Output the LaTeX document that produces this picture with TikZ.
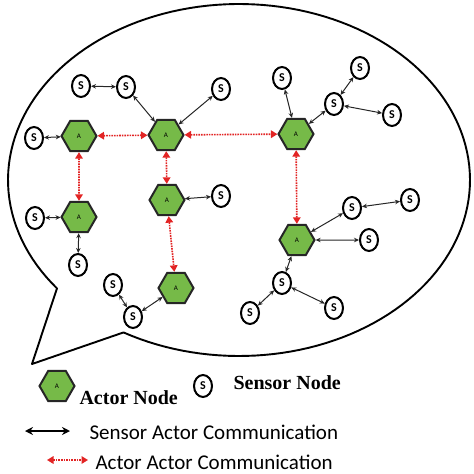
\documentclass[tikz,border=0pt]{standalone}
\usepackage{fontspec}
\setmainfont{Liberation Serif}
\newfontfamily\labelfont{Carlito}
\usetikzlibrary{arrows.meta}
\usetikzlibrary{shapes.geometric}
\definecolor{actorgreen}{RGB}{118,186,72}
\definecolor{linkred}{RGB}{226,36,36}
\tikzset{actor/.style={regular polygon, regular polygon sides=6, draw=black!85, line width=2pt,
    fill=actorgreen, minimum size=35pt, inner sep=0pt, font=\labelfont\fontsize{7}{7}\selectfont},
  sensor/.style={ellipse, draw, line width=2pt, fill=white, minimum width=18pt, minimum height=22pt,
    inner sep=0pt, font=\labelfont\bfseries\fontsize{12}{12}\selectfont},
  salink/.style={{Stealth[length=5pt,width=4.5pt]}-{Stealth[length=5pt,width=4.5pt]}, line width=1pt, black!85},
  aalink/.style={{Triangle[length=6.5pt,width=7.5pt]}-{Triangle[length=6.5pt,width=7.5pt]}, linkred,
    line width=1.6pt, densely dotted}}

\begin{document}
\begin{tikzpicture}[x=1pt, y=-1pt]
      \useasboundingbox (0, 0) rectangle (474, 474);

      \draw [line width=1.9pt, line join=round] plot [domain=142:480, samples=150]
        ({239+231*cos(\x)}, {180+176*sin(\x)}) -- (32, 364) -- cycle;

      \node [actor] (a1) at (79, 136) {A};
      \node [actor] (a2) at (166, 135) {A};
      \node [actor] (a3) at (296, 134) {A};
      \node [actor] (a4) at (79, 217) {A};
      \node [actor] (a5) at (167, 200) {A};
      \node [actor] (a6) at (176, 288) {A};
      \node [actor] (a7) at (297, 240) {A};

      \node [sensor] (s1) at (34, 138) {S};
      \node [sensor] (s2) at (81, 86) {S};
      \node [sensor] (s3) at (126, 87) {S};
      \node [sensor] (s4) at (221, 89) {S};
      \node [sensor] (s5) at (35, 218) {S};
      \node [sensor] (s6) at (78, 265) {S};
      \node [sensor] (s7) at (221, 196) {S};
      \node [sensor] (s8) at (113, 285) {S};
      \node [sensor] (s9) at (133, 317) {S};
      \node [sensor] (s10) at (282, 78) {S};
      \node [sensor] (s11) at (334, 104) {S};
      \node [sensor] (s12) at (360, 68) {S};
      \node [sensor] (s13) at (392, 115) {S};
      \node [sensor] (s14) at (352, 208) {S};
      \node [sensor] (s15) at (410, 200) {S};
      \node [sensor] (s16) at (369, 240) {S};
      \node [sensor] (s17) at (282, 283) {S};
      \node [sensor] (s18) at (250, 313) {S};
      \node [sensor] (s19) at (334, 308) {S};

      \foreach \p/\q in {s1/a1, s2/s3, s3/a2, a2/s4, a4/s5, a4/s6, a5/s7, s8/s9, s9/a6,
          a3/s10, a3/s11, s11/s12, s11/s13, a7/s14, s14/s15, a7/s16, a7/s17, s17/s18, s17/s19}
        \draw [salink] (\p) -- (\q);

      \foreach \p/\q in {a1/a2, a2/a3, a1/a4, a2/a5, a5/a6, a3/a7}
        \draw [aalink] (\p) -- (\q);

      \node [actor] (la) at (57, 386) {A};
      \node [anchor=west, font=\bfseries\fontsize{20}{20}\selectfont] (lat) at (76, 398) {Actor Node};
      \node [sensor] (ls) at (203, 386) {S};
      \node [anchor=west, font=\bfseries\fontsize{20}{20}\selectfont] (lst) at (230, 383) {Sensor Node};

      \coordinate (k1) at (25, 431);
      \coordinate (k2) at (70, 431);
      \draw [{Stealth[length=8pt,width=8pt]}-{Stealth[length=8pt,width=8pt]}, line width=1.5pt] (k1) -- (k2);
      \node [anchor=west, font=\labelfont\fontsize{21}{21}\selectfont] (lsa) at (86, 432) {Sensor Actor Communication};

      \coordinate (k3) at (47, 460);
      \coordinate (k4) at (88, 460);
      \draw [aalink] (k3) -- (k4);
      \node [anchor=west, font=\labelfont\fontsize{21}{21}\selectfont] (laa) at (92, 462) {Actor Actor Communication};
    \end{tikzpicture}
\end{document}
